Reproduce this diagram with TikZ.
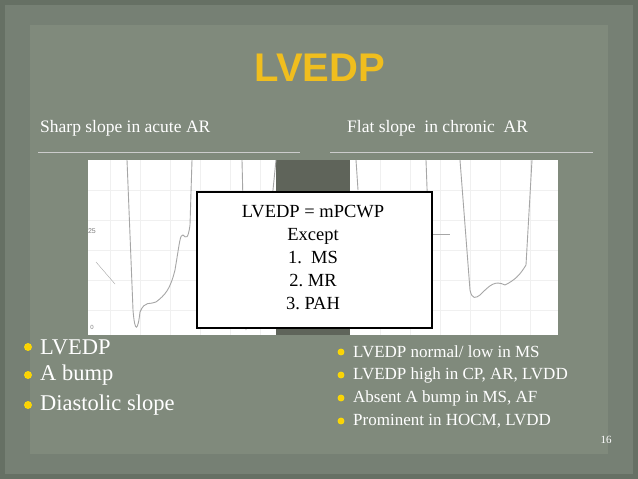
\documentclass[tikz,border=0pt]{standalone}
\usepackage{fontspec}
\setmainfont{Liberation Serif}
\setsansfont{Liberation Sans}
\begin{document}
\begin{tikzpicture}[x=1pt,y=-1pt,
  txt/.style={text=white,anchor=west,inner sep=0pt},
  bul/.style={circle,draw=yellow!80!orange,fill=yellow!70!orange,line width=0.8pt,minimum size=7pt,inner sep=0pt},
  wave/.style={draw=gray!70,line width=0.9pt},
  grid/.style={draw=gray!12,line width=0.5pt}]
\useasboundingbox (0,0) rectangle (638,479);
\fill[color={rgb,255:red,118;green,128;blue,116}] (0,0) rectangle (638,479);
\fill[color={rgb,255:red,128;green,138;blue,124}] (30,25) rectangle (608,454);
\draw[color={rgb,255:red,102;green,112;blue,100},line width=5pt] (2.5,2.5) rectangle (635.5,476.5);
% title
\node[font=\sffamily\bfseries\fontsize{40}{40}\selectfont,text={rgb,255:red,240;green,190;blue,30}] (title) at (320,68) {LVEDP};
% headers
\node[txt,font=\fontsize{17.5}{17.5}\selectfont] (h1) at (40,128) {Sharp slope in acute AR};
\node[txt,font=\fontsize{17.5}{17.5}\selectfont] (h2) at (347,128) {Flat slope\ \ in chronic\ \ AR};
\draw[gray!40,line width=0.8pt] (38,152) -- (300,152);
\draw[gray!40,line width=0.8pt] (330,152) -- (593,152);
% images
\fill[color={rgb,255:red,95;green,100;blue,90}] (276,160) rectangle (350,335);
\fill[white] (88,160) rectangle (276,335);
\fill[white] (350,160) rectangle (558,335);
\foreach \x in {110,140,170,200,230,260} \draw[grid] (\x,160) -- (\x,335);
\foreach \x in {380,410,440,470,500,530} \draw[grid] (\x,160) -- (\x,335);
\foreach \y in {190,220,250,280,310} {\draw[grid] (88,\y) -- (276,\y); \draw[grid] (350,\y) -- (558,\y);}
% left wave
\draw[wave] (127,160) -- (133,310) .. controls (135,335) and (138,330) .. (140,312)
  .. controls (145,300) and (150,305) .. (156,302) .. controls (165,295) and (170,290) .. (175,270)
  .. controls (180,240) and (180,235) .. (183,235) .. controls (186,238) and (188,240) .. (190,225)
  -- (192,160);
\draw[wave] (242,160) -- (246,330);
\draw[wave] (270,220) -- (276,160);
\draw[gray!70] (96,262) -- (115,284);
\node[font=\sffamily\fontsize{7}{7}\selectfont,text=gray] (n25) at (92,231) {25};
\node[font=\sffamily\fontsize{6}{6}\selectfont,text=gray] (n0) at (92,327) {0};
% right wave
\draw[wave] (356,160) -- (358,190);
\draw[wave] (426,160) -- (430,270);
\draw[wave] (460,160) -- (470,290) .. controls (472,300) and (476,298) .. (480,295)
  .. controls (490,285) and (495,280) .. (505,285) .. controls (515,280) and (520,275) .. (526,265)
  -- (532,160);
\draw[gray!70] (431,234) -- (450,234);
% box
\node[draw=black,line width=2.2pt,fill=white,minimum width=235pt,minimum height=136pt,anchor=north west] (box) at (196,191) {};
\node[font=\fontsize{18.5}{23}\selectfont,align=center] (boxtxt) at (313,258) {LVEDP = mPCWP\\Except\\1.\ \ MS\\2.\ MR\\3.\ PAH};
% left bullets
\foreach \t/\y [count=\i] in {LVEDP/347,A bump/375,Diastolic slope/405}{
  \node[bul] (lb\i) at (28,\y) {};
  \node[txt,font=\fontsize{22.5}{22.5}\selectfont] (lt\i) at (40,\y) {\t};}
% right bullets
\foreach \t/\y [count=\i] in {{LVEDP normal/ low in MS}/352,{LVEDP high in CP, AR, LVDD}/375,{Absent A bump in MS, AF}/398,{Prominent in HOCM, LVDD}/421}{
  \node[bul,minimum size=6pt] (rb\i) at (341,\y) {};
  \node[txt,font=\fontsize{17}{17}\selectfont] (rt\i) at (353,\y) {\t};}
\node[font=\fontsize{11}{11}\selectfont,text=white] (pg) at (606,440) {16};
\end{tikzpicture}
\end{document}
